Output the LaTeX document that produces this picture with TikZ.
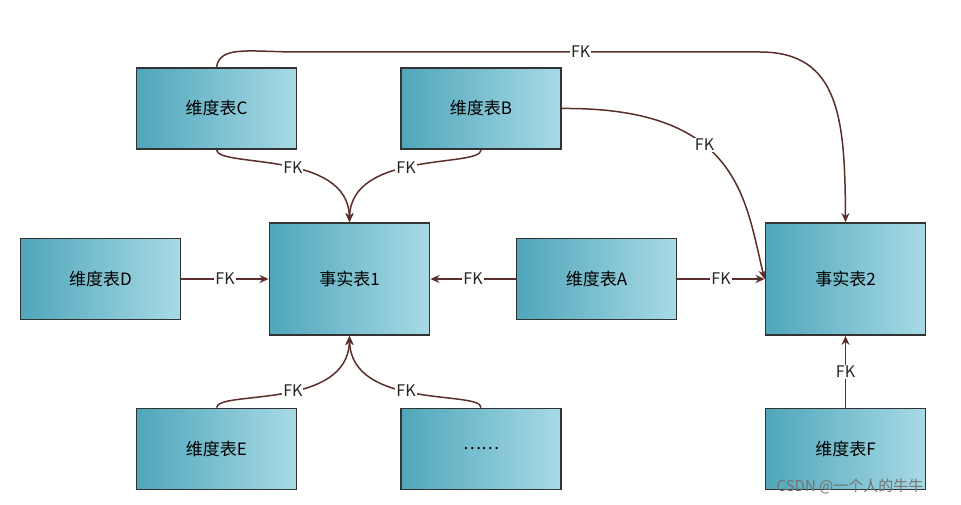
\documentclass[tikz,border=0pt]{standalone}
\usepackage{fontspec}
\newfontfamily\cjk{Noto Sans CJK SC}
\usetikzlibrary{arrows.meta}
\definecolor{tdark}{HTML}{4FA6BA}
\definecolor{tlight}{HTML}{A8DAE6}
\definecolor{arr}{HTML}{5A2E2A}
\begin{document}
\begin{tikzpicture}[x=1pt,y=-1pt,
  box/.style={draw=black!80,line width=1.8pt,minimum width=160pt,minimum height=81pt,
    left color=tdark,right color=tlight,font=\cjk\fontsize{17}{19}\selectfont,inner sep=0pt},
  big/.style={box,minimum height=112pt},
  con/.style={draw=arr,line width=1.5pt,-{Stealth[length=9pt,width=8pt]}},
  fk/.style={fill=white,inner sep=1pt,font=\cjk\fontsize{16}{18}\selectfont,text=black!85}]
\useasboundingbox (0,0) rectangle (961,505);
\node[box] (C) at (216.5,108.5) {维度表C};
\node[box] (B) at (481,108.5) {维度表B};
\node[box] (D) at (100.5,279) {维度表D};
\node[big] (F1) at (349.5,279) {事实表1};
\node[box] (A) at (596.5,279) {维度表A};
\node[big] (F2) at (845.5,279) {事实表2};
\node[box] (E) at (216.5,449) {维度表E};
\node[box] (X) at (481,449) {……};
\node[box] (F) at (845.5,449) {维度表F};
\draw[con] (C.south) .. controls (218,168) and (348,150) .. node[fk,pos=0.55]{FK} (F1.north);
\draw[con] (B.south) .. controls (481,168) and (351,150) .. node[fk,pos=0.55]{FK} (F1.north);
\draw[con] (E.north) .. controls (218,390) and (348,410) .. node[fk,pos=0.55]{FK} (F1.south);
\draw[con] (X.north) .. controls (481,390) and (351,410) .. node[fk,pos=0.55]{FK} (F1.south);
\draw[con] (C.north) .. controls (220,45) and (250,52) .. (300,52) -- node[fk,pos=0.61]{FK} (760,52) .. controls (840,52) and (845,120) .. (F2.north);
\draw[con] (B.east) .. controls (740,107) and (745,200) .. node[fk,pos=0.4]{FK} (F2.west);
\draw[con] (D) -- node[fk]{FK} (F1);
\draw[con] (A) -- node[fk]{FK} (F1);
\draw[con] (A) -- node[fk]{FK} (F2);
\draw[con] (F) -- node[fk]{FK} (F2);
\node[font=\cjk\fontsize{15}{17}\selectfont,text=black!55] (wm) at (850,486) {CSDN @一个人的牛牛};
\end{tikzpicture}
\end{document}
